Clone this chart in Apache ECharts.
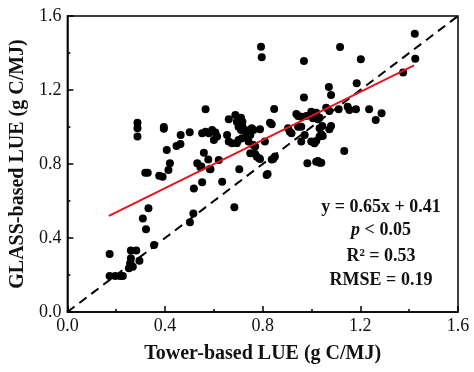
<!DOCTYPE html>
<html>
<head>
<meta charset="utf-8">
<script src="https://cdn.jsdelivr.net/npm/echarts@6/dist/echarts.min.js"></script>
<style>html,body{margin:0;padding:0;background:#fff}#c{width:474px;height:372px}</style>
</head>
<body>
<div id="c"></div>
<script>
// Tick labels
var axisTicks = [0.0, 0.4, 0.8, 1.2, 1.6];
// Observations: [Tower-based LUE, GLASS-based LUE]
var points = [
[0.173,0.195],[0.196,0.195],[0.216,0.195],[0.227,0.195],[0.173,0.314],
[0.260,0.332],[0.282,0.332],[0.260,0.290],[0.257,0.263],[0.268,0.245],[0.252,0.236],[0.295,0.277],
[0.355,0.362],[0.322,0.447],[0.309,0.506],[0.332,0.561],[0.502,0.485],[0.516,0.533],[0.518,0.667],
[0.319,0.753],[0.329,0.753],[0.376,0.737],[0.390,0.731],[0.414,0.768],[0.420,0.804],[0.407,0.876],
[0.447,0.897],[0.463,0.908],[0.464,0.957],[0.501,0.971],[0.287,1.023],[0.287,0.993],[0.287,0.948],
[0.395,1.000],[0.395,0.990],[0.532,0.804],[0.552,0.701],[0.559,0.861],[0.549,0.786],[0.577,0.825],
[0.583,0.773],[0.620,0.822],[0.634,0.704],[0.684,0.566],[0.704,0.771],[0.749,0.858],[0.769,0.854],
[0.785,0.831],[0.820,0.746],[0.837,0.825],[0.850,0.840],[0.566,1.096],[0.661,1.042],[0.793,1.434],
[0.796,1.377],[0.969,1.357],[0.688,1.065],[0.711,1.050],[0.717,1.029],[0.694,1.029],[0.701,1.002],
[0.717,1.002],[0.728,0.984],[0.711,0.984],[0.755,0.993],[0.762,0.984],[0.789,0.988],[0.830,1.023],
[0.837,1.015],[0.847,1.097],[0.969,1.160],[0.938,1.070],[0.945,1.059],[0.958,1.056],[0.979,1.059],
[0.999,1.083],[1.019,1.074],[1.006,1.047],[1.026,1.042],[0.904,0.993],[0.911,0.975],[0.918,0.966],
[0.945,1.002],[0.958,1.002],[0.972,0.957],[0.958,0.921],[0.999,0.921],[1.012,0.912],[1.033,0.993],
[1.033,0.948],[0.552,0.966],[0.566,0.975],[0.579,0.966],[0.593,0.984],[0.606,0.970],[0.613,0.948],
[0.600,0.930],[0.654,0.957],[0.661,0.921],[0.674,0.912],[0.694,0.912],[0.701,0.930],[0.715,0.939],
[0.735,0.957],[0.749,0.957],[0.742,0.921],[0.762,0.903],[0.809,0.921],[0.769,0.894],[0.776,0.839],
[0.789,0.827],[0.843,0.827],[0.545,0.782],[0.586,0.771],[0.816,0.741],[0.983,0.804],[1.019,0.812],
[1.033,0.807],[1.117,1.432],[1.202,1.366],[1.423,1.504],[1.425,1.369],[1.375,1.294],[1.185,1.236],
[1.071,1.216],[1.080,1.173],[1.060,1.104],[1.073,1.086],[1.019,1.077],[1.033,1.050],[1.111,1.096],
[1.148,1.110],[1.155,1.092],[1.182,1.096],[1.236,1.096],[1.287,1.074],[1.263,1.038],[1.044,1.005],
[1.080,1.005],[1.073,0.988],[1.019,0.924],[1.040,0.961],[1.046,0.951],[1.134,0.870],[1.026,0.816],
[1.040,0.807]
];
// Fitted regression line endpoints (y = 0.65x + 0.41)
var fitLine = [[0.17,0.52],[1.42,1.333]];
// 1:1 line
var oneToOne = [[0,0],[1.6,1.6]];
var xTitle = 'Tower-based LUE (g C/MJ)';
var yTitle = 'GLASS-based LUE (g C/MJ)';
var statsLines = ['y = 0.65x + 0.41', 'p', ' < 0.05', 'R² = 0.53', 'RMSE = 0.19'];

var serif = '"Liberation Serif", "DejaVu Serif", serif';
var chart = echarts.init(document.getElementById('c'), null, {renderer:'canvas'});
function axisCommon(name, gap){
  return {
    type:'value', min:axisTicks[0], max:axisTicks[axisTicks.length-1], interval:0.4,
    name:name, nameLocation:'middle', nameGap:gap,
    nameTextStyle:{fontFamily:serif, fontWeight:'bold', fontSize:20, color:'#111'},
    axisLine:{show:true, lineStyle:{color:'#000', width:1.5}},
    axisTick:{show:true, inside:true, length:6, lineStyle:{color:'#000', width:1.5}},
    minorTick:{show:true, splitNumber:2, length:3, lineStyle:{color:'#000', width:1.5}},
    splitLine:{show:false},
    axisLabel:{fontFamily:serif, fontSize:18, color:'#111', formatter:function(v){return v.toFixed(1);}}
  };
}
var xa = axisCommon(xTitle, 32); xa.axisLabel.margin = 5;
var ya = axisCommon(yTitle, 38); ya.axisLabel.margin = 6;
var lineStyleB = {fontFamily:serif, fontWeight:'bold', fontSize:18, fill:'#111', align:'center', verticalAlign:'middle'};
var graphics = [];
var lineTexts = [statsLines[0], null, statsLines[3], statsLines[4]];
var ys = [207, 230, 256, 280];
for (var i = 0; i < 4; i++) {
  if (i === 1) continue;
  graphics.push({type:'text', x:381, y:ys[i], style:Object.assign({text:lineTexts[i]}, lineStyleB)});
}
graphics.push({type:'text', x:381, y:ys[1], style:{
  text:'{i|' + statsLines[1] + '}{b|' + statsLines[2] + '}', align:'center', verticalAlign:'middle',
  rich:{
    b:{fontFamily:serif, fontWeight:'bold', fontSize:18, fill:'#111'},
    i:{fontFamily:serif, fontWeight:'bold', fontStyle:'italic', fontSize:18, fill:'#111'}
  }
}});
chart.setOption({
  animation:false,
  grid:{left:64, right:16, top:16, bottom:60, show:true, borderColor:'#000', borderWidth:1.5, backgroundColor:'transparent'},
  xAxis:xa,
  yAxis:ya,
  series:[
    {type:'line', data:oneToOne, symbol:'none', lineStyle:{color:'#000', width:2, type:[9,6]}, z:1},
    {type:'scatter', data:points, symbol:'circle', symbolSize:8, itemStyle:{color:'#000', opacity:1}, z:2},
    {type:'line', data:fitLine, symbol:'none', lineStyle:{color:'#e8141c', width:2}, z:3}
  ],
  graphic:graphics
});
</script>
</body>
</html>
